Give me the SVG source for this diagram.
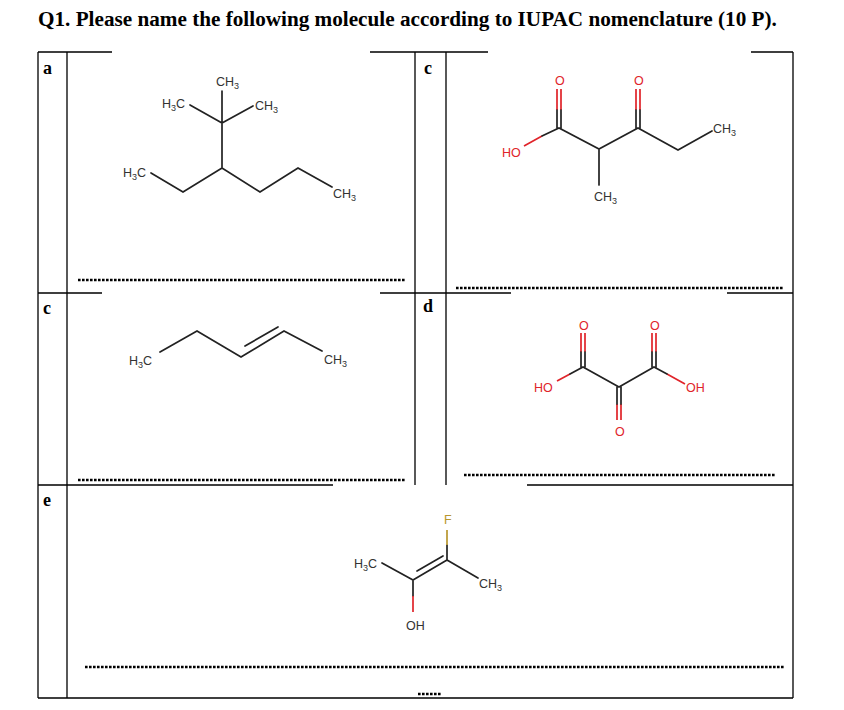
<svg xmlns="http://www.w3.org/2000/svg" width="844" height="710" viewBox="0 0 844 710">
<style>
.t{stroke:#000;stroke-width:1.3;fill:none}
.d{stroke:#000;stroke-width:2.6;stroke-dasharray:2.6 1.4;fill:none}
.b{stroke:#222;stroke-width:1.7;fill:none;stroke-linecap:round}
.r{stroke:#e0242a;stroke-width:1.7;fill:none}
.f{stroke:#b8962e;stroke-width:1.7;fill:none}
.lab{font-family:"Liberation Sans",Arial,sans-serif;font-size:12.5px;fill:#333}
.red{fill:#e0242a}
.gold{fill:#b8962e}
.h{font-family:"Liberation Serif","Times New Roman",serif;font-weight:bold;font-size:18px;fill:#000}
.s{font-size:9px}
</style>
<rect width="844" height="710" fill="#fff"/>
<text class="h" x="38" y="26" style="font-size:21.2px">Q1. Please name the following molecule according to IUPAC nomenclature (10 P).</text>
<g id="table">
<path class="t" d="M38,52H112M370,52H488M751,52H793M38,52V698M67,52V698M415,52V485M446,52V485M793,52V698M38,293H102M380,293H511M727,293H793M38,485H333M527,485H793M38,698H793"/>
<text class="h" x="43" y="74">a</text>
<text class="h" x="424" y="74">c</text>
<text class="h" x="43" y="314">c</text>
<text class="h" x="423" y="312">d</text>
<text class="h" x="43" y="506">e</text>
<path class="d" d="M78,280H405M456,288H783M78,480H405M464,475H775M85,667H785M418,694H442"/>
</g>
<g id="mol-a">
<path class="b" d="M222,123V91M190,105L222,123L253,106M222,123V168M151,173L183,192L222,168L260,192L298,168L332,187"/>
<text class="lab" x="216" y="86">CH<tspan class="s" dy="3">3</tspan></text>
<text class="lab" x="162" y="108">H<tspan class="s" dy="3">3</tspan><tspan dy="-3">C</tspan></text>
<text class="lab" x="255" y="110">CH<tspan class="s" dy="3">3</tspan></text>
<text class="lab" x="123" y="177">H<tspan class="s" dy="3">3</tspan><tspan dy="-3">C</tspan></text>
<text class="lab" x="333" y="198">CH<tspan class="s" dy="3">3</tspan></text>
</g>
<g id="mol-c1">
<path class="r" d="M524,146L542,136M557,110V89M561,110V89M636,110V89M640,110V89"/>
<path class="b" d="M542,136L559,128L599,149L638,128L678,150L712,131M599,149V185M557,128V110M561,128V110M636,128V110M640,128V110"/>
<text class="lab red" x="502" y="157">HO</text>
<text class="lab red" x="555" y="85">O</text>
<text class="lab red" x="634" y="85">O</text>
<text class="lab" x="713" y="133">CH<tspan class="s" dy="3">3</tspan></text>
<text class="lab" x="594" y="201">CH<tspan class="s" dy="3">3</tspan></text>
</g>
<g id="mol-c2">
<path class="b" d="M160,352L197,331L241,357L284,331L322,351M245,346L278,327"/>
<text class="lab" x="129" y="365">H<tspan class="s" dy="3">3</tspan><tspan dy="-3">C</tspan></text>
<text class="lab" x="324" y="364">CH<tspan class="s" dy="3">3</tspan></text>
</g>
<g id="mol-d">
<path class="r" d="M557,381L570,374M581,352V333M585,352V333M652,352V333M656,352V333M617,404V420M621,404V420M667,374L685,384"/>
<path class="b" d="M570,374L583,367L619,387L654,367L667,374M581,367V352M585,367V352M652,367V352M656,367V352M617,387V404M621,387V404"/>
<text class="lab red" x="534" y="392">HO</text>
<text class="lab red" x="579" y="330">O</text>
<text class="lab red" x="650" y="330">O</text>
<text class="lab red" x="615" y="436">O</text>
<text class="lab red" x="686" y="392">OH</text>
</g>
<g id="mol-e">
<path class="b" d="M382,563L413,580L447,560L478,578M417,571L443,556M447,560V545M413,580V596"/>
<path class="f" d="M447,545V530"/>
<path class="r" d="M413,596V612"/>
<text class="lab gold" x="444" y="524">F</text>
<text class="lab" x="354" y="568">H<tspan class="s" dy="3">3</tspan><tspan dy="-3">C</tspan></text>
<text class="lab" x="479" y="588">CH<tspan class="s" dy="3">3</tspan></text>
<text class="lab" x="406" y="630">OH</text>
</g>
</svg>
